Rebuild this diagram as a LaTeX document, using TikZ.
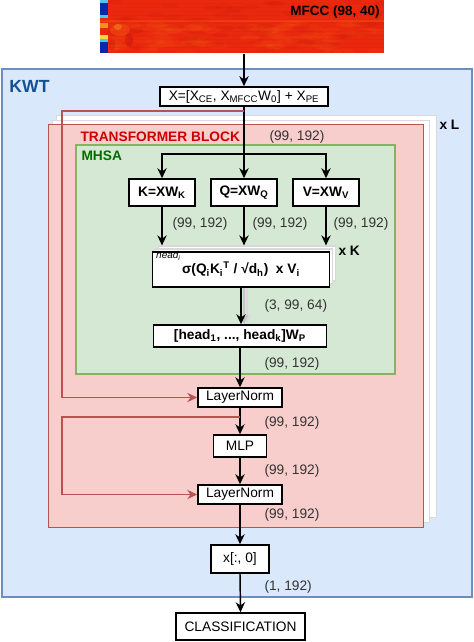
\documentclass[tikz,border=0pt]{standalone}
\usepackage{fontspec}
\setmainfont{Liberation Sans}
\usetikzlibrary{arrows.meta}

\definecolor{kwtfill}{RGB}{218,232,252}
\definecolor{kwtline}{RGB}{108,142,191}
\definecolor{kwttext}{RGB}{20,80,150}
\definecolor{tbfill}{RGB}{248,206,204}
\definecolor{tbline}{RGB}{184,84,80}
\definecolor{tbtext}{RGB}{204,0,0}
\definecolor{mhfill}{RGB}{213,232,212}
\definecolor{mhline}{RGB}{130,179,102}
\definecolor{mhtext}{RGB}{0,110,0}
\definecolor{dimtext}{RGB}{51,51,51}
\definecolor{mfred}{RGB}{234,40,14}
\definecolor{mfdark}{RGB}{190,18,8}
\definecolor{mforange}{RGB}{250,100,22}
\definecolor{mfblue}{RGB}{12,40,170}
\definecolor{mfcyan}{RGB}{70,200,240}
\definecolor{mfyellow}{RGB}{245,215,50}

\tikzset{every picture/.style={line width=0.75pt}}
\tikzset{
  block/.style={draw=black, fill=white, line width=1.2pt, inner sep=0pt, font=\fontsize{10.3}{12}\selectfont},
  ghost/.style={block, draw=gray!30, line width=0.9pt},
  flow/.style={line width=1.1pt, -{Stealth[length=7.5pt,width=7pt]}},
  resid/.style={draw=tbline, line width=1.1pt, -{Stealth[length=7.5pt,width=7pt]}},
  dimlabel/.style={anchor=west, inner sep=0.75pt, text=dimtext, font=\fontsize{10.3}{12}\selectfont},
}

\begin{document}
\begin{tikzpicture}[x=0.75pt,y=0.75pt,yscale=-1]
\useasboundingbox (0,0) rectangle (474,642);

% containers
\draw [draw=kwtline, fill=kwtfill, line width=1pt] (2,69) rectangle (472,597);
\draw [draw=gray!30, fill=white] (56,115) rectangle (436,517);
\draw [draw=gray!30, fill=white] (52,120) rectangle (429,522);
\draw [draw=tbline, fill=tbfill] (48,124) rectangle (423,527);
\draw [draw=mhline, fill=mhfill, line width=1pt] (76,145) rectangle (395,374);

% mfcc picture
\begin{scope}
  \clip (100,0) rectangle (384,53);
  \fill [mfred] (100,0) rectangle (384,53);
  \pgfmathsetseed{11}
  \foreach \k in {1,...,90} {
    \pgfmathsetmacro{\px}{108+276*rnd}
    \pgfmathsetmacro{\py}{23+30*rnd}
    \fill [mforange, opacity=0.12] (\px,\py) ellipse [x radius=10, y radius=3];
  }
  \foreach \k in {1,...,60} {
    \pgfmathsetmacro{\px}{108+276*rnd}
    \pgfmathsetmacro{\py}{1+52*rnd}
    \fill [mfdark, opacity=0.12] (\px,\py) ellipse [x radius=9, y radius=2.5];
  }
  \foreach \k in {3,7,...,51} {
    \fill [mfdark, opacity=0.1] (108,\k) rectangle (384,\k+1);
  }
  \fill [mforange, opacity=0.35] (120,30) ellipse [x radius=10, y radius=6];
  \fill [mfyellow, opacity=0.25] (118,27) ellipse [x radius=4, y radius=3];
  \fill [mfdark, opacity=0.35] (129,40) ellipse [x radius=4, y radius=7];
  \fill [mfdark, opacity=0.3] (112,45) ellipse [x radius=3, y radius=6];
  \fill [mforange, opacity=0.3] (100,20) rectangle (384,22);
  \fill [mfcyan] (100,0) rectangle (108,3);
  \fill [mfblue] (100,3) rectangle (108,15);
  \fill [mfcyan] (100,15) rectangle (108,18);
  \fill [mfyellow, opacity=0.6] (100,23) rectangle (108,28);
  \fill [mfyellow] (100,35) rectangle (108,39);
  \fill [mfcyan] (100,39) rectangle (108,42);
  \fill [mfblue] (100,42) rectangle (108,53);
\end{scope}
\draw (381,12) node [anchor=east][inner sep=0.75pt] (mfcc) {\fontsize{10.1}{12}\selectfont\bfseries MFCC (98, 40)};
\coordinate (mfccout) at (244,54);

% titles
\draw (8,86) node [anchor=west][inner sep=0.75pt] (kwt) {\fontsize{13.2}{15}\selectfont\bfseries\color{kwttext}KWT};
\draw (79,137) node [anchor=west][inner sep=0.75pt] (tblock) {\fontsize{10.3}{12}\selectfont\bfseries\color{tbtext}TRANSFORMER BLOCK};
\draw (80,156) node [anchor=west][inner sep=0.75pt] (mhsa) {\fontsize{10.3}{12}\selectfont\bfseries\color{mhtext}MHSA};
\draw (438,125) node [anchor=west][inner sep=0.75pt] (nl) {\fontsize{10.3}{12}\selectfont\bfseries x L};
\draw (337,251) node [anchor=west][inner sep=0.75pt] (nk) {\fontsize{10.3}{12}\selectfont\bfseries x K};

% blocks
\node [block, minimum width=126pt, minimum height=14.25pt] (xin) at (244,96.5) {X=[X\textsubscript{CE}, X\textsubscript{MFCC}W\textsubscript{0}] + X\textsubscript{PE}};
\node [block, minimum width=49.5pt, minimum height=20.25pt, font=\fontsize{10.3}{12}\selectfont\bfseries] (kbox) at (162,192.5) {K=XW\textsubscript{K}};
\node [block, minimum width=49.5pt, minimum height=20.25pt, font=\fontsize{10.3}{12}\selectfont\bfseries] (qbox) at (244,192.5) {Q=XW\textsubscript{Q}};
\node [block, minimum width=49.5pt, minimum height=20.25pt, font=\fontsize{10.3}{12}\selectfont\bfseries] (vbox) at (326,192.5) {V=XW\textsubscript{V}};
\node [ghost, minimum width=132.75pt, minimum height=26.25pt] (attc) at (247,263.5) {};
\node [ghost, minimum width=132.75pt, minimum height=26.25pt] (attb) at (244,266.5) {};
\node [block, minimum width=132.75pt, minimum height=26.25pt, font=\fontsize{10.3}{12}\selectfont\bfseries] (att) at (241,269.5) {\raisebox{-3pt}{σ(Q\textsubscript{i}K\textsubscript{i}\textsuperscript{T} / √d\textsubscript{h})\ \ x V\textsubscript{i}}};
\node [anchor=north west, inner sep=1pt, font=\fontsize{7.5}{8}\selectfont\itshape] (headi) at ([xshift=2pt,yshift=-1pt]att.north west) {head\textsubscript{i}};
\node [block, minimum width=129.75pt, minimum height=16.5pt, font=\fontsize{10.3}{12}\selectfont\bfseries] (cat) at (240,336) {[head\textsubscript{1}, ..., head\textsubscript{k}]W\textsubscript{P}};
\node [block, minimum width=63pt, minimum height=14.25pt] (ln1) at (240,397.5) {LayerNorm};
\node [block, minimum width=39.75pt, minimum height=16.5pt] (mlp) at (240,446) {MLP};
\node [block, minimum width=63pt, minimum height=14.25pt] (ln2) at (240,494.5) {LayerNorm};
\node [block, minimum width=43.5pt, minimum height=21pt] (sel) at (240,559) {x[:, 0]};
\node [block, minimum width=96.75pt, minimum height=20.25pt] (cls) at (240.5,626.5) {CLASSIFICATION};

% shapes of tensors
\draw (268,137) node [dimlabel] (d0) {(99, 192)};
\draw (171,224) node [dimlabel] (dk) {(99, 192)};
\draw (251,224) node [dimlabel] (dq) {(99, 192)};
\draw (332,224) node [dimlabel] (dv) {(99, 192)};
\draw (263,306) node [dimlabel] (datt) {(3, 99, 64)};
\draw (263,364) node [dimlabel] (dcat) {(99, 192)};
\draw (263,423) node [dimlabel] (dln1) {(99, 192)};
\draw (263,471) node [dimlabel] (dmlp) {(99, 192)};
\draw (263,515) node [dimlabel] (dln2) {(99, 192)};
\draw (263,587) node [dimlabel] (dsel) {(1, 192)};

% connectors
\coordinate (split) at (244,154);
\coordinate (tapA) at (244,111);
\coordinate (tapB) at (240,417);
\coordinate (rail) at (62,0);
\draw [flow] (mfccout) -- (xin.north);
\draw [line width=1.1pt] (xin.south) -- (split);
\draw [flow] (split) -| (kbox.north);
\draw [flow] (split) -- (qbox.north);
\draw [flow] (split) -| (vbox.north);
\draw [flow] (kbox.south) -- (kbox.south |- attc.north);
\draw [flow] (qbox.south) -- (qbox.south |- attc.north);
\draw [flow] (vbox.south) -- (vbox.south |- attc.north);
\draw [flow, color=gray!30] (attc.south |- att.south) -- (attc.south |- cat.north);
\draw [flow, color=gray!45] (attb.south |- att.south) -- (attb.south |- cat.north);
\draw [flow] (att.south) -- (att.south |- cat.north);
\draw [flow] (cat.south) -- (ln1.north);
\draw [flow] (ln1.south) -- (mlp.north);
\draw [flow] (mlp.south) -- (ln2.north);
\draw [flow] (ln2.south) -- (sel.north);
\draw [flow] (sel.south) -- (cls.north);
\draw [resid] (tapA) -- (tapA -| rail) |- (ln1.west);
\draw [resid] (tapB) -- (tapB -| rail) |- (ln2.west);
\end{tikzpicture}
\end{document}
